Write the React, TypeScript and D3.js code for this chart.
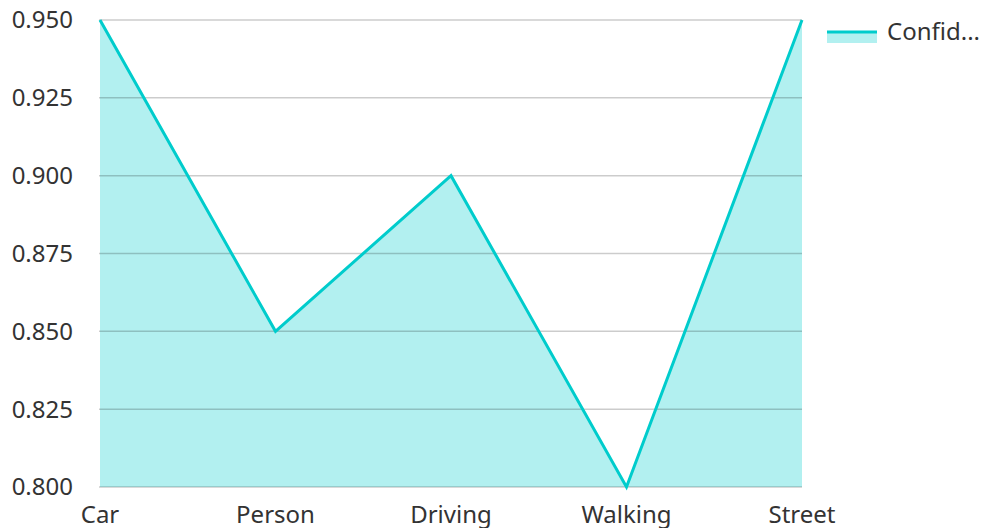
import { useEffect, useRef } from "react"
import * as d3 from "d3"

const categories = ["Car", "Person", "Driving", "Walking", "Street"]
const confidence = [0.95, 0.85, 0.9, 0.8, 0.95]
const yTicks = [0.8, 0.825, 0.85, 0.875, 0.9, 0.925, 0.95]
const seriesName = "Confidence"

export default function App() {
  const svgRef = useRef<SVGSVGElement>(null)

  useEffect(() => {
    if (!svgRef.current) return
    const root = d3.select(svgRef.current)
    root.selectAll("*").remove()

    const margin = { top: 20, right: 182, bottom: 41, left: 100 }
    const width = 984 - margin.left - margin.right
    const height = 528 - margin.top - margin.bottom
    const font = "'Noto Sans', 'Open Sans', sans-serif"
    const color = "#00cccc"

    const svg = root.append("g").attr("transform", `translate(${margin.left},${margin.top})`)

    const x = d3.scalePoint<string>().domain(categories).range([0, width])
    const y = d3.scaleLinear().domain([0.8, 0.95]).range([height, 0])

    const data = categories.map((c, i) => ({ cat: c, value: confidence[i] }))

    // Area under the line
    const area = d3
      .area<any>()
      .x((d) => x(d.cat)!)
      .y0(height)
      .y1((d) => y(d.value))
    svg.append("path").datum(data).attr("fill", color).attr("fill-opacity", 0.3).attr("d", area)

    // Grid lines
    svg
      .append("g")
      .selectAll("line")
      .data(yTicks)
      .enter()
      .append("line")
      .attr("x1", -1)
      .attr("x2", width)
      .attr("y1", (d) => y(d))
      .attr("y2", (d) => y(d))
      .attr("stroke", "#000")
      .attr("stroke-opacity", 0.2)
      .attr("stroke-width", 1.5)

    // Line
    const line = d3
      .line<any>()
      .x((d) => x(d.cat)!)
      .y((d) => y(d.value))
    svg
      .append("path")
      .datum(data)
      .attr("fill", "none")
      .attr("stroke", color)
      .attr("stroke-width", 3)
      .attr("d", line)

    // Y axis labels
    svg
      .append("g")
      .selectAll("text")
      .data(yTicks)
      .enter()
      .append("text")
      .attr("x", -27)
      .attr("y", (d) => y(d))
      .attr("dy", "0.35em")
      .attr("text-anchor", "end")
      .attr("font-family", font)
      .attr("font-size", "24px")
      .attr("fill", "#333")
      .text((d) => d3.format(".3f")(d))

    // X axis labels
    svg
      .append("g")
      .selectAll("text")
      .data(categories)
      .enter()
      .append("text")
      .attr("x", (d) => x(d)!)
      .attr("y", height + 36)
      .attr("text-anchor", "middle")
      .attr("font-family", font)
      .attr("font-size", "24px")
      .attr("fill", "#333")
      .text((d) => d)

    // Legend
    const legend = root.append("g").attr("transform", "translate(827,0)")
    legend.append("rect").attr("x", 0).attr("y", 31).attr("width", 50).attr("height", 12).attr("fill", color).attr("fill-opacity", 0.3)
    legend.append("line").attr("x1", 0).attr("x2", 50).attr("y1", 32).attr("y2", 32).attr("stroke", color).attr("stroke-width", 3)
    const label = seriesName.slice(0, 6) + "..."
    legend
      .append("text")
      .attr("x", 60)
      .attr("y", 32)
      .attr("dy", "0.35em")
      .attr("font-family", font)
      .attr("font-size", "24px")
      .attr("fill", "#333")
      .text(label)
  }, [])

  return (
    <svg
      ref={svgRef}
      width={984}
      height={528}
      style={{ position: "absolute", left: 0, top: 0, display: "block" }}
    ></svg>
  )
}
